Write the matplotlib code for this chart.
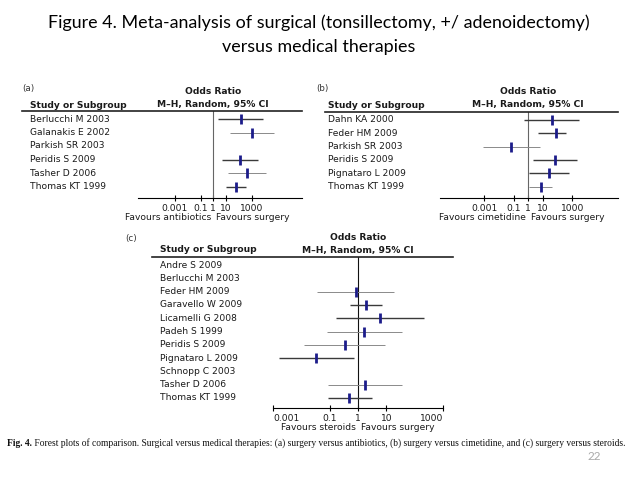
import numpy as np
import matplotlib
matplotlib.use("Agg")
import matplotlib.pyplot as plt
from matplotlib.transforms import blended_transform_factory

W, H = 638, 478

title_lines = ["Figure 4. Meta-analysis of surgical (tonsillectomy, +/ adenoidectomy)",
               "versus medical therapies"]
caption_bold = "Fig. 4."
caption_rest = (" Forest plots of comparison. Surgical versus medical therapies: (a) surgery versus "
                "antibiotics, (b) surgery versus cimetidine, and (c) surgery versus steroids.")
page_number = "22"

tick_values = [0.001, 0.1, 1, 10, 1000]
tick_labels = ["0.001", "0.1", "1", "10", "1000"]

# (a) surgery vs antibiotics
a_studies = ["Berlucchi M 2003", "Galanakis E 2002", "Parkish SR 2003",
             "Peridis S 2009", "Tasher D 2006", "Thomas KT 1999"]
a_or = [138, 1120, np.nan, 123, 410, 56]
a_low = [2.5, 20, np.nan, 4.5, 15, 9.3]
a_high = [8300, 60000, np.nan, 3300, 12600, 340]
a_weight = [2, 1, 0, 2, 1, 2]

# (b) surgery vs cimetidine
b_studies = ["Dahn KA 2000", "Feder HM 2009", "Parkish SR 2003",
             "Peridis S 2009", "Pignataro L 2009", "Thomas KT 1999"]
b_or = [38, 76, 0.071, 65, 27, 6.9]
b_low = [0.51, 4.3, 0.0008, 1.95, 1.17, 1.17]
b_high = [2900, 360, 6.2, 1900, 600, 38]
b_weight = [2, 2, 1, 2, 2, 1]

# (c) surgery vs steroids
c_studies = ["Andre S 2009", "Berlucchi M 2003", "Feder HM 2009", "Garavello W 2009",
             "Licamelli G 2008", "Padeh S 1999", "Peridis S 2009", "Pignataro L 2009",
             "Schnopp C 2003", "Tasher D 2006", "Thomas KT 1999"]
c_or = [np.nan, np.nan, 0.83, 1.86, 5.8, 1.6, 0.34, 0.033, np.nan, 1.74, 0.49]
c_low = [np.nan, np.nan, 0.036, 0.51, 0.16, 0.076, 0.012, 0.0016, np.nan, 0.087, 0.087]
c_high = [np.nan, np.nan, 18.6, 7.1, 214, 36, 9.1, 0.72, np.nan, 35, 3.1]
c_weight = [0, 0, 1, 2, 2, 1, 1, 2, 0, 1, 2]


def fx(x):
    return x / W


def fy(y):
    return 1 - y / H


def forest(fig, label, studies, odds, low, high, weight, favours, lay):
    # lay: pixel layout of one panel
    x0, x1 = lay["axis_x"]
    top, bottom = lay["head_y"], lay["axis_y"]
    one, dec = lay["one_x"], lay["decade"]
    ax = fig.add_axes([fx(x0), fy(bottom), (x1 - x0) / W, (bottom - top) / H])
    ax.set_xscale("log")
    ax.set_xlim(10 ** ((x0 - one) / dec), 10 ** ((x1 - one) / dec))
    r0, step = lay["row0"], lay["row_step"]
    ax.set_ylim((bottom - r0) / step + 1, (top - r0) / step + 1)
    ax.patch.set_alpha(0)
    for s in ["top", "left", "right"]:
        ax.spines[s].set_visible(False)
    ax.spines["bottom"].set_linewidth(0.8)
    ax.set_yticks([])
    ax.set_xticks(tick_values)
    ax.minorticks_off()
    ax.set_xticklabels(tick_labels)
    ax.tick_params(axis="x", direction="inout", length=5, width=0.8, pad=1.5,
                   labelsize=6.6, labelcolor="#1a1a1a")
    if lay.get("end_align"):
        labs = ax.get_xticklabels()
        labs[0].set_ha("left")
        labs[-1].set_ha("right")
    ax.axvline(1, color=lay["vcolor"], lw=0.8)

    rows = np.arange(1, len(studies) + 1)
    for r, o, lo, hi, w in zip(rows, odds, low, high, weight):
        if np.isnan(o):
            continue
        col = "#3a3a3a" if w == 2 else "#8a8a8a"
        ax.plot([lo, hi], [r, r], color=col, lw=1.0 if w == 2 else 0.7,
                solid_capstyle="butt")
        ax.plot([o], [r], marker="|", ms=6.5, mew=2.0, color="#1c1c8a")

    ty = blended_transform_factory(fig.transFigure, ax.transData)
    for r, name in zip(rows, studies):
        ax.text(fx(lay["name_x"]), r, name, transform=ty, fontsize=6.6,
                va="center", ha="left", color="#1a1a1a")

    tx = blended_transform_factory(ax.transData, fig.transFigure)
    ax.text(1, fy(lay["or_y"]), "Odds Ratio", transform=tx, fontsize=6.6,
            fontweight="bold", ha="center", va="center", color="#1a1a1a")
    ax.text(1, fy(lay["mh_y"]), "M\u2013H, Random, 95% CI", transform=tx,
            fontsize=6.6, fontweight="bold", ha="center", va="center", color="#1a1a1a")
    fig.text(fx(lay["name_x"]), fy(lay["mh_y"]), "Study or Subgroup", fontsize=6.6,
             fontweight="bold", ha="left", va="center", color="#1a1a1a")
    fig.text(fx(lay["lab_x"]), fy(lay["lab_y"]), label, fontsize=6.3,
             ha="left", va="center", color="#333333")
    # header rule
    fig.add_artist(plt.Line2D([fx(lay["rule_x"][0]), fx(lay["rule_x"][1])],
                              [fy(top), fy(top)], color="#222222", lw=1.2))
    ax.text(10 ** (-2 / dec), fy(lay["fav_y"]), favours[0], transform=tx,
            fontsize=6.6, ha="right", va="center", color="#1a1a1a")
    ax.text(10 ** (3 / dec), fy(lay["fav_y"]), favours[1], transform=tx,
            fontsize=6.6, ha="left", va="center", color="#1a1a1a")
    return ax


def main():
    plt.rcParams["font.family"] = ["DejaVu Sans"]
    fig = plt.figure(figsize=(W / 100, H / 100), dpi=100)
    fig.patch.set_facecolor("white")

    fig.text(0.5, fy(23), title_lines[0], family=["Lato", "DejaVu Sans"],
             fontsize=12.9, ha="center", va="center", color="black")
    fig.text(0.5, fy(47), title_lines[1], family=["Lato", "DejaVu Sans"],
             fontsize=12.9, ha="center", va="center", color="black")

    lay_a = dict(axis_x=(138, 302), head_y=111, axis_y=198, one_x=213.3, decade=12.77,
                 row0=119, row_step=13.5, name_x=30, or_y=92, mh_y=105, lab_x=22,
                 lab_y=88, rule_x=(22, 302), fav_y=218, vcolor="#666666")
    lay_b = dict(axis_x=(440, 618), head_y=111.7, axis_y=198, one_x=528.3, decade=14.73,
                 row0=120, row_step=13.3, name_x=328, or_y=92, mh_y=105, lab_x=316,
                 lab_y=89, rule_x=(325, 618), fav_y=218, vcolor="#666666")
    lay_c = dict(axis_x=(273, 443), head_y=257, axis_y=408, one_x=358.3, decade=28.33,
                 row0=265, row_step=13.3, name_x=160, or_y=237, mh_y=250, lab_x=125,
                 lab_y=239, rule_x=(152, 453), fav_y=427, vcolor="#111111",
                 end_align=True)

    forest(fig, "(a)", a_studies, a_or, a_low, a_high, a_weight,
           ["Favours antibiotics", "Favours surgery"], lay_a)
    forest(fig, "(b)", b_studies, b_or, b_low, b_high, b_weight,
           ["Favours cimetidine", "Favours surgery"], lay_b)
    forest(fig, "(c)", c_studies, c_or, c_low, c_high, c_weight,
           ["Favours steroids", "Favours surgery"], lay_c)

    # caption, bold lead then plain text, fitted to the slide width
    cap_family = ["Liberation Sans Narrow", "Liberation Serif", "DejaVu Sans"]
    renderer = fig.canvas.get_renderer()
    size = 6.0
    t1 = fig.text(fx(7), fy(443), caption_bold, family=cap_family, fontweight="bold",
                  fontsize=size, ha="left", va="center", color="#111111")
    t2 = fig.text(0, fy(443), caption_rest, family=cap_family, fontsize=size,
                  ha="left", va="center", color="#111111")
    w = (t1.get_window_extent(renderer).width + t2.get_window_extent(renderer).width)
    size = size * 626 / w
    t1.set_fontsize(size)
    t2.set_fontsize(size)
    w1 = t1.get_window_extent(renderer).width
    t2.set_x(fx(7 + w1))

    fig.text(fx(594), fy(457), page_number, fontsize=8.5, family=["Lato", "DejaVu Sans"],
             ha="center", va="center", color="#aaaaaa")

    plt.savefig("out.png", dpi=100, facecolor="white")


if __name__ == "__main__":
    main()
